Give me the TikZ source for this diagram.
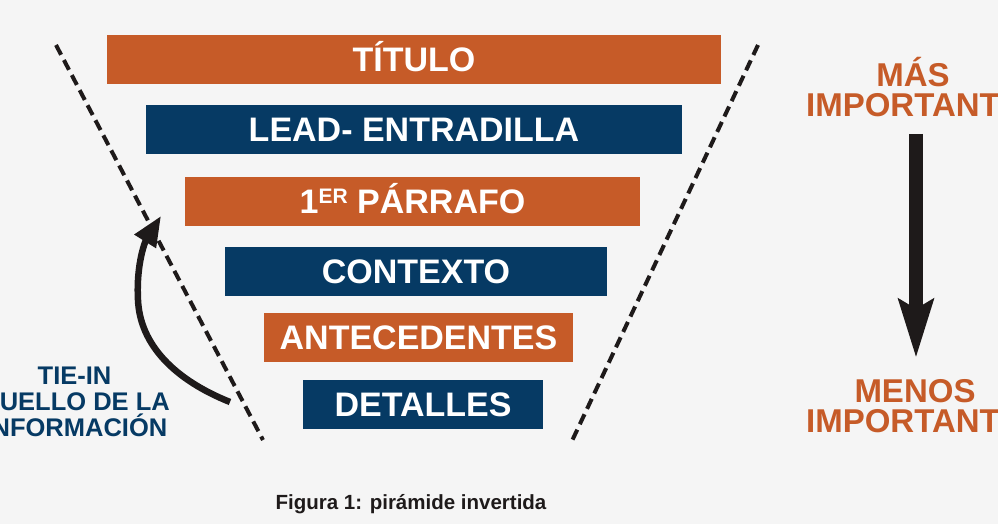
\documentclass[tikz,border=0pt]{standalone}
\usepackage{fontspec}
\setmainfont{Liberation Sans}
\usetikzlibrary{arrows.meta}
\definecolor{bgc}{HTML}{F5F5F5}
\definecolor{orc}{HTML}{C65B28}
\definecolor{blc}{HTML}{063A64}
\definecolor{ink}{HTML}{1E1A1A}
\begin{document}
\begin{tikzpicture}[x=1pt,y=-1pt,
  bar/.style={inner sep=0pt, text=white, font=\fontsize{34}{34}\selectfont\bfseries,
    text height=24.4pt, text depth=0pt, minimum height=49pt},
  obar/.style={bar, fill=orc},
  bbar/.style={bar, fill=blc},
  sidetxt/.style={font=\fontsize{33}{33}\selectfont\bfseries, text=orc, inner sep=0pt, anchor=base},
  lefttxt/.style={font=\fontsize{25.5}{26}\selectfont\bfseries, text=blc, inner sep=0pt, anchor=base},
  guide/.style={ink, line width=4pt, dash pattern=on 11pt off 6pt},
]
\useasboundingbox[fill=bgc] (0,0) rectangle (998,524);

% bars
\node[obar, minimum width=614pt] (titulo) at (414,59.5) {TÍTULO};
\node[bbar, minimum width=536pt] (lead) at (414,129.5) {LEAD- ENTRADILLA};
\node[obar, minimum width=455pt] (parrafo) at (412.5,201) {1{\fontsize{21}{21}\selectfont\raisebox{9.3pt}{ER}} PÁRRAFO};
\node[bbar, minimum width=382pt] (contexto) at (416,271.5) {CONTEXTO};
\node[obar, minimum width=309pt] (antec) at (418.5,337) {ANTECEDENTES};
\node[bbar, minimum width=240pt] (detalles) at (423,404) {DETALLES};

% dashed guides
\coordinate (l1) at (56,45);
\coordinate (l2) at (263,440);
\coordinate (r1) at (758,45);
\coordinate (r2) at (571,443);
\draw[guide] (l1) -- (l2);
\draw[guide] (r1) -- (r2);

% curved arrow
\coordinate (cs) at (230,402);
\coordinate (cm) at (138,300);
\coordinate (ce) at (161,216);
\draw[ink, line width=6.5pt, -{Triangle[length=30pt,width=24pt]}]
  (cs) .. controls (175,380) and (140,345) .. (cm)
       .. controls (136,262) and (146,240) .. (ce);

% left labels
\node[lefttxt] (tiein) at (74.5,384) {TIE-IN};
\node[lefttxt, anchor=base east] (cuello) at (170,410) {UELLO DE LA};
\node[lefttxt, anchor=base east] (informacion) at (167.5,436) {NFORMACIÓN};

% right labels
\node[sidetxt] (mas) at (913,87) {MÁS};
\node[sidetxt, anchor=base east] (imp1) at (1000,117) {IMPORTANT};
\node[sidetxt] (menos) at (915,402) {MENOS};
\node[sidetxt, anchor=base east] (imp2) at (1000,432.5) {IMPORTANT};

% straight arrow
\coordinate (at) at (916,134);
\coordinate (ab) at (916,358);
\draw[ink, line width=14pt, -{Stealth[length=58pt,width=34pt,inset=9pt]}] (at) -- (ab);

% caption
\node[font=\fontsize{20.5}{21}\selectfont\bfseries, text=ink, inner sep=0pt, anchor=base] (caption) at (411,509) {Figura 1: pirámide invertida};
\end{tikzpicture}
\end{document}
